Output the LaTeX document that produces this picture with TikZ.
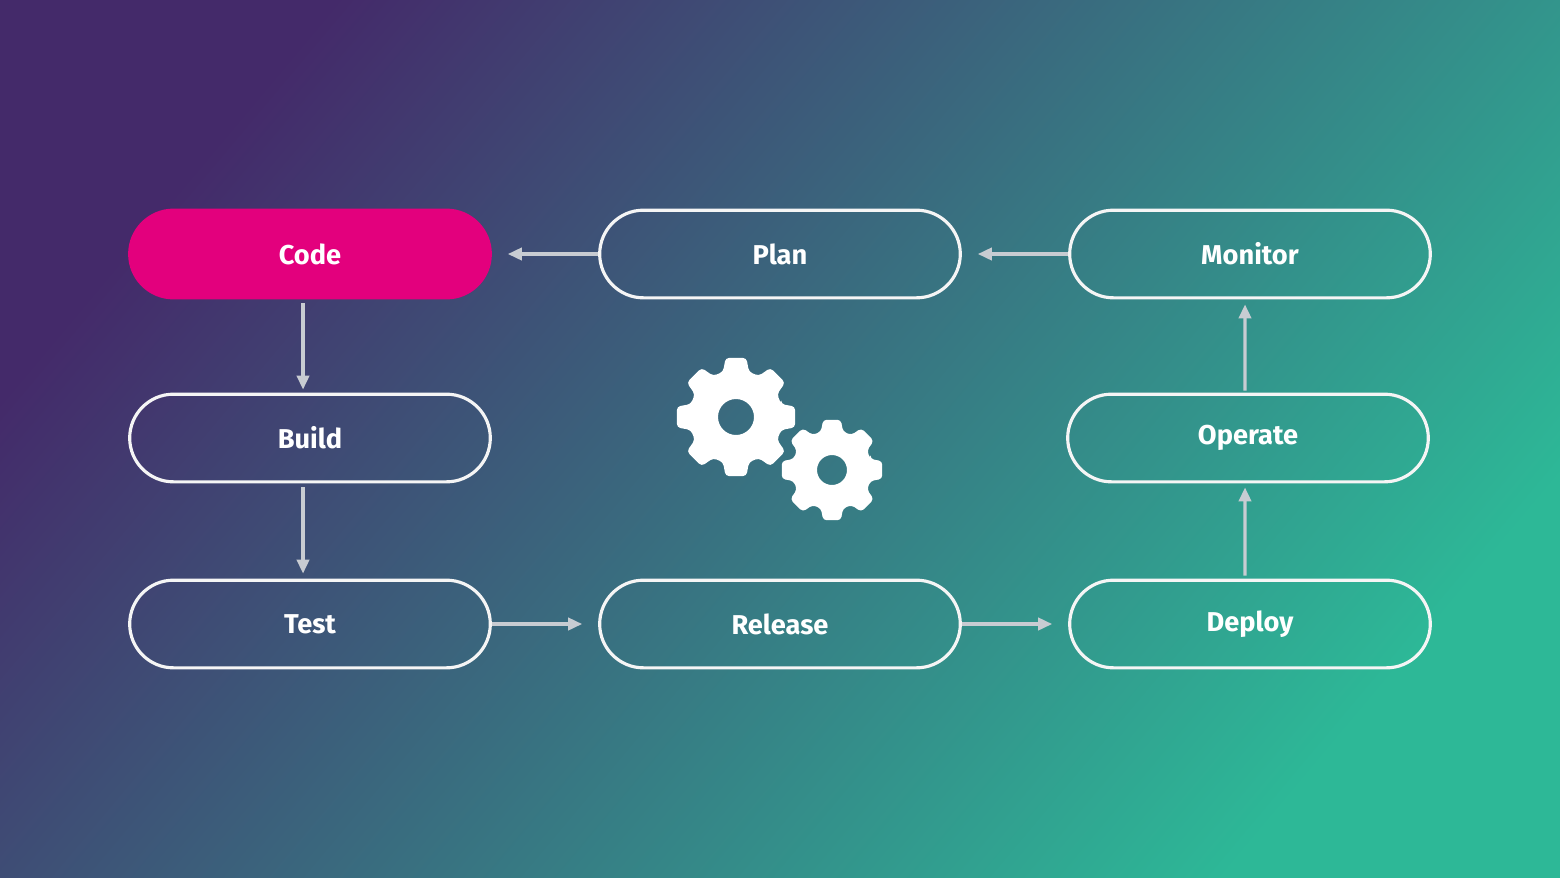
\documentclass[tikz,border=0pt]{standalone}
\usepackage{fontspec}
\setmainfont{Fira Sans}
\usetikzlibrary{arrows.meta}
\definecolor{bgA}{HTML}{442A6A}
\definecolor{bgM}{HTML}{3B6878}
\definecolor{bgB}{HTML}{2DB897}
\definecolor{codepink}{HTML}{E3007D}
\definecolor{arr}{HTML}{C8CCD2}
\tikzset{
  stage/.style={draw=white!92!gray, line width=1.8pt, rounded corners=44*0.567pt,
    minimum width=362*0.567pt, minimum height=88*0.567pt, inner sep=0pt,
    text=white, font=\fontsize{15.5}{18}\selectfont\bfseries},
  hot/.style={fill=codepink, draw=codepink},
  flow/.style={draw=arr, line width=1.8pt, -{Triangle[length=8pt,width=7pt]}}
}
\newcommand{\mygear}[5]{% cx cy rin rout hole
  \begin{scope}[shift={(#1,#2)}]
  \fill[white, even odd rule, rounded corners=2pt]
    (-16:#3) \foreach \a in {0,45,...,315} { -- (\a-16:#3) -- (\a-10:#4) -- (\a+10:#4) -- (\a+16:#3)} -- cycle
    (0,0) circle (#5);
  \end{scope}}
\begin{document}
\begin{tikzpicture}[x=0.02cm,y=-0.02cm]
\shade[top color=bgA, middle color=bgM, bottom color=bgB, shading angle=50] (0,0) rectangle (1560,877);
\useasboundingbox (0,0) rectangle (1560,877);
\node[stage,hot] (code) at (310,254) {Code};
\node[stage] (plan) at (780,254) {Plan};
\node[stage] (monitor) at (1250,254) {Monitor};
\node[stage] (build) at (310,438) {Build};
\node[stage] (operate) at (1248,438) {Operate};
\node[stage] (test) at (310,624) {Test};
\node[stage] (release) at (780,624) {Release};
\node[stage] (deploy) at (1250,624) {Deploy};
\draw[flow, shorten >=16*0.567pt] (plan.west) -- (code.east);
\draw[flow, shorten >=16*0.567pt] (monitor.west) -- (plan.east);
\draw[flow, shorten <=4*0.567pt, shorten >=3*0.567pt] ([xshift=-7*0.567pt]code.south) -- ([xshift=-7*0.567pt]build.north);
\draw[flow, shorten <=4*0.567pt, shorten >=5*0.567pt] ([xshift=-7*0.567pt]build.south) -- ([xshift=-7*0.567pt]test.north);
\draw[flow, shorten >=16*0.567pt] (test.east) -- (release.west);
\draw[flow, shorten >=16*0.567pt] (release.east) -- (deploy.west);
\draw[flow, shorten <=3*0.567pt, shorten >=4*0.567pt] ([xshift=-5*0.567pt]deploy.north) -- ([xshift=-3*0.567pt]operate.south);
\draw[flow, shorten <=2*0.567pt, shorten >=5*0.567pt] ([xshift=-3*0.567pt]operate.north) -- ([xshift=-5*0.567pt]monitor.south);
\mygear{736}{417}{47}{60}{18}
\mygear{832}{470}{40}{51}{15}
\end{tikzpicture}
\end{document}
